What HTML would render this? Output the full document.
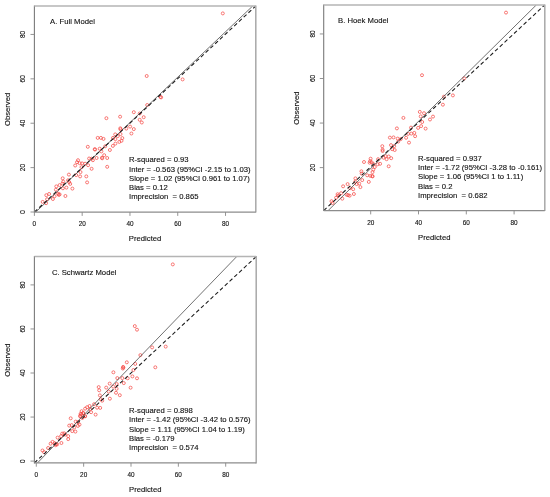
<!DOCTYPE html><html><head><meta charset="utf-8"><title>Figure</title><style>html,body{margin:0;padding:0;background:#fff}svg{display:block}text{font-family:"Liberation Sans",Arial,Helvetica,sans-serif;font-size:7.7px;fill:#111;stroke:#111;stroke-width:0.12px}text.t{font-size:6.4px}</style></head><body>
<svg width="550" height="497" viewBox="0 0 550 497">
<rect width="550" height="497" fill="#fff"/>
<g>
<clipPath id="cA"><rect x="34.40" y="5.90" width="221.40" height="206.20"/></clipPath>
<g clip-path="url(#cA)" fill="none" stroke="#f64a45" stroke-width="0.8" stroke-opacity="0.92"><circle cx="42.7" cy="201.9" r="1.5"/><circle cx="46.1" cy="203.2" r="1.5"/><circle cx="46.3" cy="195.2" r="1.5"/><circle cx="49.1" cy="194.0" r="1.5"/><circle cx="47.1" cy="199.2" r="1.5"/><circle cx="52.9" cy="199.0" r="1.5"/><circle cx="54.6" cy="196.2" r="1.5"/><circle cx="58.1" cy="193.7" r="1.5"/><circle cx="59.6" cy="194.4" r="1.5"/><circle cx="58.8" cy="194.9" r="1.5"/><circle cx="65.4" cy="196.0" r="1.5"/><circle cx="56.3" cy="186.4" r="1.5"/><circle cx="55.9" cy="189.7" r="1.5"/><circle cx="59.6" cy="185.1" r="1.5"/><circle cx="62.7" cy="178.3" r="1.5"/><circle cx="63.2" cy="181.6" r="1.5"/><circle cx="62.5" cy="183.6" r="1.5"/><circle cx="62.9" cy="188.3" r="1.5"/><circle cx="66.4" cy="187.6" r="1.5"/><circle cx="68.9" cy="174.6" r="1.5"/><circle cx="68.0" cy="180.3" r="1.5"/><circle cx="69.2" cy="182.1" r="1.5"/><circle cx="70.2" cy="183.9" r="1.5"/><circle cx="72.4" cy="188.6" r="1.5"/><circle cx="75.2" cy="165.5" r="1.5"/><circle cx="76.2" cy="175.1" r="1.5"/><circle cx="80.1" cy="176.4" r="1.5"/><circle cx="80.5" cy="172.1" r="1.5"/><circle cx="81.5" cy="167.2" r="1.5"/><circle cx="86.3" cy="176.4" r="1.5"/><circle cx="87.1" cy="182.4" r="1.5"/><circle cx="120.3" cy="128.3" r="1.5"/><circle cx="120.5" cy="129.3" r="1.5"/><circle cx="120.5" cy="134.1" r="1.5"/><circle cx="115.2" cy="134.4" r="1.5"/><circle cx="113.0" cy="137.9" r="1.5"/><circle cx="115.4" cy="139.1" r="1.5"/><circle cx="117.8" cy="136.1" r="1.5"/><circle cx="122.3" cy="138.1" r="1.5"/><circle cx="121.5" cy="140.8" r="1.5"/><circle cx="119.3" cy="141.9" r="1.5"/><circle cx="115.4" cy="143.6" r="1.5"/><circle cx="112.9" cy="145.9" r="1.5"/><circle cx="109.9" cy="150.0" r="1.5"/><circle cx="97.7" cy="137.9" r="1.5"/><circle cx="100.9" cy="137.9" r="1.5"/><circle cx="103.5" cy="138.9" r="1.5"/><circle cx="87.8" cy="146.8" r="1.5"/><circle cx="95.1" cy="149.5" r="1.5"/><circle cx="94.7" cy="149.2" r="1.5"/><circle cx="99.7" cy="148.7" r="1.5"/><circle cx="105.2" cy="146.3" r="1.5"/><circle cx="101.4" cy="151.4" r="1.5"/><circle cx="104.2" cy="155.2" r="1.5"/><circle cx="102.0" cy="157.7" r="1.5"/><circle cx="102.2" cy="158.3" r="1.5"/><circle cx="107.2" cy="158.0" r="1.5"/><circle cx="96.6" cy="158.0" r="1.5"/><circle cx="89.1" cy="158.5" r="1.5"/><circle cx="91.6" cy="158.7" r="1.5"/><circle cx="92.9" cy="160.2" r="1.5"/><circle cx="78.0" cy="160.2" r="1.5"/><circle cx="77.0" cy="162.2" r="1.5"/><circle cx="79.6" cy="163.2" r="1.5"/><circle cx="82.1" cy="163.4" r="1.5"/><circle cx="85.1" cy="163.7" r="1.5"/><circle cx="88.1" cy="165.2" r="1.5"/><circle cx="91.6" cy="168.8" r="1.5"/><circle cx="107.2" cy="166.8" r="1.5"/><circle cx="106.4" cy="118.2" r="1.5"/><circle cx="146.7" cy="76.0" r="1.5"/><circle cx="161.1" cy="97.4" r="1.5"/><circle cx="160.5" cy="97.0" r="1.5"/><circle cx="147.2" cy="105.0" r="1.5"/><circle cx="133.8" cy="112.2" r="1.5"/><circle cx="139.7" cy="113.5" r="1.5"/><circle cx="120.1" cy="116.7" r="1.5"/><circle cx="143.7" cy="117.2" r="1.5"/><circle cx="139.7" cy="119.8" r="1.5"/><circle cx="141.8" cy="122.5" r="1.5"/><circle cx="130.1" cy="126.6" r="1.5"/><circle cx="126.3" cy="128.6" r="1.5"/><circle cx="133.8" cy="129.1" r="1.5"/><circle cx="131.4" cy="133.5" r="1.5"/><circle cx="222.8" cy="13.4" r="1.5"/><circle cx="182.6" cy="79.4" r="1.5"/></g>
<g clip-path="url(#cA)">
<line x1="35.70" y1="212.10" x2="252.80" y2="5.90" stroke="#333" stroke-width="0.7"/>
<line x1="34.40" y1="212.10" x2="255.80" y2="5.90" stroke="#1c1c1c" stroke-width="1.08" stroke-dasharray="3.9 2.6"/>
</g>
<line x1="34.40" y1="5.40" x2="34.40" y2="212.60" stroke="#7a7a7a" stroke-width="1.1"/>
<line x1="255.80" y1="5.40" x2="255.80" y2="212.60" stroke="#a8a8a8" stroke-width="1.5"/>
<line x1="34.40" y1="5.90" x2="255.80" y2="5.90" stroke="#b4b4b4" stroke-width="1.5"/>
<line x1="34.40" y1="212.10" x2="255.80" y2="212.10" stroke="#8c8c8c" stroke-width="1.3"/>
<line x1="34.40" y1="212.10" x2="34.40" y2="215.90" stroke="#888" stroke-width="0.9"/>
<text x="34.40" y="226.00" text-anchor="middle" class="t">0</text>
<line x1="82.18" y1="212.10" x2="82.18" y2="215.90" stroke="#888" stroke-width="0.9"/>
<text x="82.18" y="226.00" text-anchor="middle" class="t">20</text>
<line x1="129.96" y1="212.10" x2="129.96" y2="215.90" stroke="#888" stroke-width="0.9"/>
<text x="129.96" y="226.00" text-anchor="middle" class="t">40</text>
<line x1="177.74" y1="212.10" x2="177.74" y2="215.90" stroke="#888" stroke-width="0.9"/>
<text x="177.74" y="226.00" text-anchor="middle" class="t">60</text>
<line x1="225.52" y1="212.10" x2="225.52" y2="215.90" stroke="#888" stroke-width="0.9"/>
<text x="225.52" y="226.00" text-anchor="middle" class="t">80</text>
<line x1="30.50" y1="212.00" x2="34.40" y2="212.00" stroke="#888" stroke-width="0.9"/>
<text transform="translate(25.00 212.00) rotate(-90)" text-anchor="middle" class="t">0</text>
<line x1="30.50" y1="167.61" x2="34.40" y2="167.61" stroke="#888" stroke-width="0.9"/>
<text transform="translate(25.00 167.61) rotate(-90)" text-anchor="middle" class="t">20</text>
<line x1="30.50" y1="123.22" x2="34.40" y2="123.22" stroke="#888" stroke-width="0.9"/>
<text transform="translate(25.00 123.22) rotate(-90)" text-anchor="middle" class="t">40</text>
<line x1="30.50" y1="78.83" x2="34.40" y2="78.83" stroke="#888" stroke-width="0.9"/>
<text transform="translate(25.00 78.83) rotate(-90)" text-anchor="middle" class="t">60</text>
<line x1="30.50" y1="34.44" x2="34.40" y2="34.44" stroke="#888" stroke-width="0.9"/>
<text transform="translate(25.00 34.44) rotate(-90)" text-anchor="middle" class="t">80</text>
<text x="145.10" y="240.80" text-anchor="middle">Predicted</text>
<text transform="translate(9.80 109.40) rotate(-90)" text-anchor="middle">Observed</text>
<text x="50.10" y="23.80">A. Full Model</text>
<text x="129.00" y="162.30" xml:space="preserve">R-squared = 0.93</text>
<text x="129.00" y="171.57" xml:space="preserve">Inter = -0.563 (95%CI -2.15 to 1.03)</text>
<text x="129.00" y="180.84" xml:space="preserve">Slope = 1.02 (95%CI 0.961 to 1.07)</text>
<text x="129.00" y="190.11" xml:space="preserve">Bias = 0.12</text>
<text x="129.00" y="199.38" xml:space="preserve">Imprecision  = 0.865</text>
</g>
<g>
<clipPath id="cB"><rect x="323.70" y="4.90" width="221.10" height="205.70"/></clipPath>
<g clip-path="url(#cB)" fill="none" stroke="#f64a45" stroke-width="0.8" stroke-opacity="0.92"><circle cx="331.5" cy="201.2" r="1.5"/><circle cx="332.6" cy="203.0" r="1.5"/><circle cx="337.6" cy="194.2" r="1.5"/><circle cx="338.1" cy="195.7" r="1.5"/><circle cx="341.1" cy="193.2" r="1.5"/><circle cx="342.3" cy="198.7" r="1.5"/><circle cx="346.6" cy="194.7" r="1.5"/><circle cx="348.1" cy="195.2" r="1.5"/><circle cx="349.6" cy="195.7" r="1.5"/><circle cx="353.9" cy="194.0" r="1.5"/><circle cx="343.1" cy="186.3" r="1.5"/><circle cx="347.6" cy="184.1" r="1.5"/><circle cx="353.2" cy="189.2" r="1.5"/><circle cx="350.1" cy="188.2" r="1.5"/><circle cx="355.4" cy="178.4" r="1.5"/><circle cx="355.2" cy="181.6" r="1.5"/><circle cx="356.7" cy="184.1" r="1.5"/><circle cx="359.2" cy="183.6" r="1.5"/><circle cx="360.4" cy="187.1" r="1.5"/><circle cx="362.2" cy="180.1" r="1.5"/><circle cx="361.4" cy="171.3" r="1.5"/><circle cx="361.7" cy="173.6" r="1.5"/><circle cx="364.0" cy="162.0" r="1.5"/><circle cx="367.2" cy="175.3" r="1.5"/><circle cx="370.3" cy="175.9" r="1.5"/><circle cx="372.3" cy="176.1" r="1.5"/><circle cx="372.6" cy="176.4" r="1.5"/><circle cx="372.5" cy="172.1" r="1.5"/><circle cx="368.8" cy="181.9" r="1.5"/><circle cx="374.8" cy="167.0" r="1.5"/><circle cx="373.3" cy="169.6" r="1.5"/><circle cx="336.1" cy="197.7" r="1.5"/><circle cx="396.9" cy="128.4" r="1.5"/><circle cx="411.0" cy="127.6" r="1.5"/><circle cx="414.3" cy="132.9" r="1.5"/><circle cx="411.3" cy="133.6" r="1.5"/><circle cx="408.1" cy="133.9" r="1.5"/><circle cx="406.1" cy="137.8" r="1.5"/><circle cx="409.0" cy="142.6" r="1.5"/><circle cx="389.9" cy="137.6" r="1.5"/><circle cx="393.5" cy="137.4" r="1.5"/><circle cx="397.7" cy="138.6" r="1.5"/><circle cx="400.7" cy="139.1" r="1.5"/><circle cx="398.2" cy="141.6" r="1.5"/><circle cx="391.0" cy="145.1" r="1.5"/><circle cx="394.2" cy="146.2" r="1.5"/><circle cx="382.3" cy="146.2" r="1.5"/><circle cx="382.6" cy="149.7" r="1.5"/><circle cx="382.6" cy="151.0" r="1.5"/><circle cx="394.7" cy="150.0" r="1.5"/><circle cx="392.2" cy="149.2" r="1.5"/><circle cx="385.6" cy="156.2" r="1.5"/><circle cx="388.7" cy="156.5" r="1.5"/><circle cx="391.2" cy="158.2" r="1.5"/><circle cx="386.6" cy="159.2" r="1.5"/><circle cx="383.6" cy="157.7" r="1.5"/><circle cx="378.1" cy="159.2" r="1.5"/><circle cx="370.6" cy="158.7" r="1.5"/><circle cx="370.1" cy="161.2" r="1.5"/><circle cx="371.6" cy="162.2" r="1.5"/><circle cx="369.6" cy="162.7" r="1.5"/><circle cx="373.3" cy="164.0" r="1.5"/><circle cx="380.1" cy="163.8" r="1.5"/><circle cx="377.6" cy="164.3" r="1.5"/><circle cx="388.7" cy="166.3" r="1.5"/><circle cx="422.0" cy="75.2" r="1.5"/><circle cx="443.9" cy="96.7" r="1.5"/><circle cx="452.9" cy="95.4" r="1.5"/><circle cx="442.9" cy="104.7" r="1.5"/><circle cx="419.8" cy="111.9" r="1.5"/><circle cx="424.0" cy="113.2" r="1.5"/><circle cx="420.7" cy="116.4" r="1.5"/><circle cx="403.4" cy="117.9" r="1.5"/><circle cx="433.0" cy="116.6" r="1.5"/><circle cx="430.0" cy="119.5" r="1.5"/><circle cx="422.2" cy="122.0" r="1.5"/><circle cx="421.1" cy="126.1" r="1.5"/><circle cx="418.1" cy="127.9" r="1.5"/><circle cx="425.6" cy="128.6" r="1.5"/><circle cx="415.1" cy="136.2" r="1.5"/><circle cx="506.0" cy="12.6" r="1.5"/><circle cx="464.2" cy="78.4" r="1.5"/></g>
<g clip-path="url(#cB)">
<line x1="328.10" y1="210.60" x2="536.40" y2="4.90" stroke="#333" stroke-width="0.7"/>
<line x1="323.70" y1="210.60" x2="544.80" y2="4.90" stroke="#1c1c1c" stroke-width="1.08" stroke-dasharray="3.9 2.6"/>
</g>
<line x1="323.70" y1="4.40" x2="323.70" y2="211.10" stroke="#7a7a7a" stroke-width="1.1"/>
<line x1="544.80" y1="4.40" x2="544.80" y2="211.10" stroke="#a8a8a8" stroke-width="1.5"/>
<line x1="323.70" y1="4.90" x2="544.80" y2="4.90" stroke="#b4b4b4" stroke-width="1.5"/>
<line x1="323.70" y1="210.60" x2="544.80" y2="210.60" stroke="#8c8c8c" stroke-width="1.3"/>
<line x1="370.70" y1="210.60" x2="370.70" y2="214.40" stroke="#888" stroke-width="0.9"/>
<text x="370.70" y="224.80" text-anchor="middle" class="t">20</text>
<line x1="418.50" y1="210.60" x2="418.50" y2="214.40" stroke="#888" stroke-width="0.9"/>
<text x="418.50" y="224.80" text-anchor="middle" class="t">40</text>
<line x1="466.30" y1="210.60" x2="466.30" y2="214.40" stroke="#888" stroke-width="0.9"/>
<text x="466.30" y="224.80" text-anchor="middle" class="t">60</text>
<line x1="514.10" y1="210.60" x2="514.10" y2="214.40" stroke="#888" stroke-width="0.9"/>
<text x="514.10" y="224.80" text-anchor="middle" class="t">80</text>
<line x1="319.80" y1="167.60" x2="323.70" y2="167.60" stroke="#888" stroke-width="0.9"/>
<text transform="translate(314.70 167.60) rotate(-90)" text-anchor="middle" class="t">20</text>
<line x1="319.80" y1="123.05" x2="323.70" y2="123.05" stroke="#888" stroke-width="0.9"/>
<text transform="translate(314.70 123.05) rotate(-90)" text-anchor="middle" class="t">40</text>
<line x1="319.80" y1="78.50" x2="323.70" y2="78.50" stroke="#888" stroke-width="0.9"/>
<text transform="translate(314.70 78.50) rotate(-90)" text-anchor="middle" class="t">60</text>
<line x1="319.80" y1="33.95" x2="323.70" y2="33.95" stroke="#888" stroke-width="0.9"/>
<text transform="translate(314.70 33.95) rotate(-90)" text-anchor="middle" class="t">80</text>
<text x="434.25" y="239.90" text-anchor="middle">Predicted</text>
<text transform="translate(298.80 108.15) rotate(-90)" text-anchor="middle">Observed</text>
<text x="338.00" y="23.20">B. Hoek Model</text>
<text x="418.00" y="160.70" xml:space="preserve">R-squared = 0.937</text>
<text x="418.00" y="169.97" xml:space="preserve">Inter = -1.72 (95%CI -3.28 to -0.161)</text>
<text x="418.00" y="179.24" xml:space="preserve">Slope = 1.06 (95%CI 1 to 1.11)</text>
<text x="418.00" y="188.51" xml:space="preserve">Bias = 0.2</text>
<text x="418.00" y="197.78" xml:space="preserve">Imprecision  = 0.682</text>
</g>
<g>
<clipPath id="cC"><rect x="34.40" y="256.60" width="221.80" height="206.30"/></clipPath>
<g clip-path="url(#cC)" fill="none" stroke="#f64a45" stroke-width="0.8" stroke-opacity="0.92"><circle cx="42.5" cy="450.5" r="1.5"/><circle cx="44.1" cy="452.2" r="1.5"/><circle cx="48.1" cy="448.0" r="1.5"/><circle cx="50.6" cy="443.7" r="1.5"/><circle cx="52.6" cy="441.9" r="1.5"/><circle cx="54.6" cy="443.2" r="1.5"/><circle cx="56.1" cy="444.2" r="1.5"/><circle cx="57.1" cy="444.4" r="1.5"/><circle cx="55.6" cy="445.2" r="1.5"/><circle cx="61.4" cy="443.0" r="1.5"/><circle cx="57.6" cy="437.6" r="1.5"/><circle cx="61.1" cy="436.1" r="1.5"/><circle cx="62.2" cy="433.6" r="1.5"/><circle cx="64.2" cy="433.3" r="1.5"/><circle cx="68.2" cy="436.1" r="1.5"/><circle cx="68.2" cy="439.1" r="1.5"/><circle cx="69.2" cy="425.6" r="1.5"/><circle cx="71.7" cy="425.1" r="1.5"/><circle cx="70.7" cy="418.3" r="1.5"/><circle cx="72.2" cy="431.1" r="1.5"/><circle cx="75.4" cy="431.6" r="1.5"/><circle cx="74.2" cy="427.6" r="1.5"/><circle cx="75.7" cy="421.6" r="1.5"/><circle cx="77.9" cy="425.9" r="1.5"/><circle cx="79.5" cy="424.6" r="1.5"/><circle cx="80.3" cy="416.5" r="1.5"/><circle cx="81.3" cy="414.0" r="1.5"/><circle cx="83.3" cy="413.0" r="1.5"/><circle cx="85.0" cy="416.2" r="1.5"/><circle cx="82.3" cy="418.0" r="1.5"/><circle cx="65.2" cy="434.6" r="1.5"/><circle cx="78.2" cy="422.1" r="1.5"/><circle cx="113.4" cy="372.3" r="1.5"/><circle cx="122.8" cy="368.5" r="1.5"/><circle cx="117.3" cy="378.1" r="1.5"/><circle cx="122.3" cy="378.1" r="1.5"/><circle cx="123.8" cy="383.1" r="1.5"/><circle cx="109.7" cy="383.6" r="1.5"/><circle cx="106.2" cy="387.6" r="1.5"/><circle cx="98.7" cy="387.1" r="1.5"/><circle cx="99.2" cy="390.3" r="1.5"/><circle cx="116.8" cy="384.1" r="1.5"/><circle cx="113.2" cy="386.6" r="1.5"/><circle cx="116.6" cy="388.8" r="1.5"/><circle cx="116.0" cy="392.8" r="1.5"/><circle cx="119.8" cy="395.2" r="1.5"/><circle cx="109.9" cy="398.7" r="1.5"/><circle cx="108.7" cy="391.6" r="1.5"/><circle cx="99.9" cy="395.4" r="1.5"/><circle cx="100.7" cy="399.2" r="1.5"/><circle cx="102.2" cy="400.7" r="1.5"/><circle cx="94.1" cy="404.2" r="1.5"/><circle cx="89.6" cy="406.0" r="1.5"/><circle cx="87.1" cy="407.2" r="1.5"/><circle cx="85.1" cy="408.7" r="1.5"/><circle cx="97.1" cy="407.7" r="1.5"/><circle cx="100.2" cy="407.9" r="1.5"/><circle cx="91.1" cy="412.2" r="1.5"/><circle cx="95.6" cy="414.6" r="1.5"/><circle cx="81.6" cy="411.2" r="1.5"/><circle cx="80.6" cy="413.8" r="1.5"/><circle cx="83.1" cy="413.2" r="1.5"/><circle cx="85.1" cy="416.3" r="1.5"/><circle cx="80.1" cy="415.8" r="1.5"/><circle cx="90.1" cy="409.2" r="1.5"/><circle cx="134.8" cy="326.1" r="1.5"/><circle cx="137.0" cy="329.7" r="1.5"/><circle cx="152.1" cy="347.4" r="1.5"/><circle cx="165.7" cy="346.6" r="1.5"/><circle cx="140.4" cy="355.1" r="1.5"/><circle cx="126.8" cy="362.3" r="1.5"/><circle cx="135.2" cy="363.9" r="1.5"/><circle cx="123.1" cy="366.9" r="1.5"/><circle cx="123.4" cy="367.6" r="1.5"/><circle cx="155.3" cy="367.3" r="1.5"/><circle cx="133.4" cy="370.0" r="1.5"/><circle cx="132.4" cy="376.4" r="1.5"/><circle cx="137.0" cy="378.3" r="1.5"/><circle cx="127.7" cy="378.3" r="1.5"/><circle cx="130.6" cy="387.7" r="1.5"/><circle cx="172.8" cy="264.4" r="1.5"/></g>
<g clip-path="url(#cC)">
<line x1="37.50" y1="462.90" x2="236.70" y2="256.60" stroke="#333" stroke-width="0.7"/>
<line x1="34.40" y1="462.90" x2="256.20" y2="256.60" stroke="#1c1c1c" stroke-width="1.08" stroke-dasharray="3.9 2.6"/>
</g>
<line x1="34.40" y1="256.10" x2="34.40" y2="463.40" stroke="#7a7a7a" stroke-width="1.1"/>
<line x1="256.20" y1="256.10" x2="256.20" y2="463.40" stroke="#a8a8a8" stroke-width="1.5"/>
<line x1="34.40" y1="256.60" x2="256.20" y2="256.60" stroke="#b4b4b4" stroke-width="1.5"/>
<line x1="34.40" y1="462.90" x2="256.20" y2="462.90" stroke="#8c8c8c" stroke-width="1.3"/>
<line x1="36.30" y1="462.90" x2="36.30" y2="466.70" stroke="#888" stroke-width="0.9"/>
<text x="36.30" y="476.50" text-anchor="middle" class="t">0</text>
<line x1="83.65" y1="462.90" x2="83.65" y2="466.70" stroke="#888" stroke-width="0.9"/>
<text x="83.65" y="476.50" text-anchor="middle" class="t">20</text>
<line x1="131.00" y1="462.90" x2="131.00" y2="466.70" stroke="#888" stroke-width="0.9"/>
<text x="131.00" y="476.50" text-anchor="middle" class="t">40</text>
<line x1="178.35" y1="462.90" x2="178.35" y2="466.70" stroke="#888" stroke-width="0.9"/>
<text x="178.35" y="476.50" text-anchor="middle" class="t">60</text>
<line x1="225.70" y1="462.90" x2="225.70" y2="466.70" stroke="#888" stroke-width="0.9"/>
<text x="225.70" y="476.50" text-anchor="middle" class="t">80</text>
<line x1="30.50" y1="461.10" x2="34.40" y2="461.10" stroke="#888" stroke-width="0.9"/>
<text transform="translate(25.10 461.10) rotate(-90)" text-anchor="middle" class="t">0</text>
<line x1="30.50" y1="417.05" x2="34.40" y2="417.05" stroke="#888" stroke-width="0.9"/>
<text transform="translate(25.10 417.05) rotate(-90)" text-anchor="middle" class="t">20</text>
<line x1="30.50" y1="373.00" x2="34.40" y2="373.00" stroke="#888" stroke-width="0.9"/>
<text transform="translate(25.10 373.00) rotate(-90)" text-anchor="middle" class="t">40</text>
<line x1="30.50" y1="328.95" x2="34.40" y2="328.95" stroke="#888" stroke-width="0.9"/>
<text transform="translate(25.10 328.95) rotate(-90)" text-anchor="middle" class="t">60</text>
<line x1="30.50" y1="284.90" x2="34.40" y2="284.90" stroke="#888" stroke-width="0.9"/>
<text transform="translate(25.10 284.90) rotate(-90)" text-anchor="middle" class="t">80</text>
<text x="145.30" y="492.00" text-anchor="middle">Predicted</text>
<text transform="translate(9.80 360.15) rotate(-90)" text-anchor="middle">Observed</text>
<text x="51.90" y="274.80">C. Schwartz Model</text>
<text x="129.00" y="413.20" xml:space="preserve">R-squared = 0.898</text>
<text x="129.00" y="422.47" xml:space="preserve">Inter = -1.42 (95%CI -3.42 to 0.576)</text>
<text x="129.00" y="431.74" xml:space="preserve">Slope = 1.11 (95%CI 1.04 to 1.19)</text>
<text x="129.00" y="441.01" xml:space="preserve">Bias = -0.179</text>
<text x="129.00" y="450.28" xml:space="preserve">Imprecision  = 0.574</text>
</g>
</svg></body></html>
